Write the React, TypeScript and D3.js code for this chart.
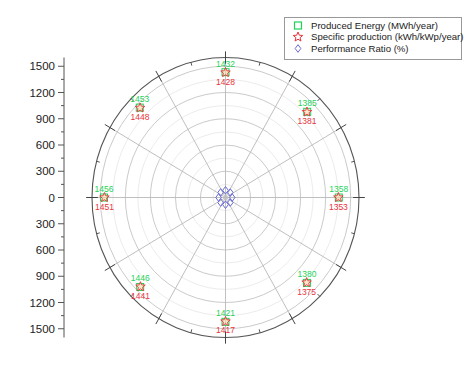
import React from "react";
import * as d3 from "d3";

const directions = [0, 45, 90, 135, 180, 225, 270, 315]; // degrees clockwise from north
const producedEnergy = [1432, 1385, 1358, 1380, 1421, 1446, 1456, 1453];
const specificProduction = [1428, 1381, 1353, 1375, 1417, 1441, 1451, 1448];
const performanceRatio = [82, 81, 80, 81, 82, 82, 83, 82];
const axisTicks = [-1500, -1200, -900, -600, -300, 0, 300, 600, 900, 1200, 1500];
const legendLabels = [
  "Produced Energy (MWh/year)",
  "Specific production (kWh/kWp/year)",
  "Performance Ratio (%)",
];

const W = 474;
const H = 376;
const cx = 225.5;
const cy = 197.5;
const RX = 133.5;
const RY = 140;
const MAXV = 1600;
const FONT = "'Liberation Sans', Arial, sans-serif";
const GREEN = "#1fd25a";
const RED = "#e8333d";
const BLUE = "#6b6bd6";

const rx = d3.scaleLinear().domain([0, MAXV]).range([0, RX]);
const ry = d3.scaleLinear().domain([0, MAXV]).range([0, RY]);
const yAxis = d3.scaleLinear().domain([-MAXV, MAXV]).range([cy - RY, cy + RY]);

function pos(angleDeg: number, v: number): [number, number] {
  const a = (angleDeg * Math.PI) / 180;
  return [cx + rx(v) * Math.sin(a), cy - ry(v) * Math.cos(a)];
}

function starPath(x: number, y: number, R: number, r: number) {
  const pts: string[] = [];
  for (let i = 0; i < 10; i++) {
    const a = (Math.PI / 5) * i - Math.PI / 2;
    const rr = i % 2 === 0 ? R : r;
    pts.push(`${x + rr * Math.cos(a)},${y + rr * Math.sin(a)}`);
  }
  return "M" + pts.join("L") + "Z";
}

function diamondPath(x: number, y: number, s: number) {
  return `M${x},${y - s}L${x + s * 0.75},${y}L${x},${y + s}L${x - s * 0.75},${y}Z`;
}

export default function App() {
  const majorRings = d3.range(300, 1501, 300);
  const minorRings = d3.range(150, 1600, 300);
  const spokes = d3.range(0, 360, 30);
  const minorTicks = d3.range(15, 360, 30);
  const axisMinor = d3.range(-1650, 1651, 300).filter((v) => Math.abs(v) <= MAXV);

  return (
    <svg width={W} height={H} style={{ position: "absolute", left: 0, top: 0, background: "#fff" }}>
      {minorRings.map((v) => (
        <ellipse key={"mn" + v} cx={cx} cy={cy} rx={rx(v)} ry={ry(v)} fill="none" stroke="#e6e6e6" strokeWidth={0.8} />
      ))}
      {majorRings.map((v) => (
        <ellipse key={"mj" + v} cx={cx} cy={cy} rx={rx(v)} ry={ry(v)} fill="none" stroke="#c4c4c4" strokeWidth={0.9} />
      ))}
      {spokes.map((a) => {
        const [x, y] = pos(a, MAXV);
        return <line key={"sp" + a} x1={cx} y1={cy} x2={x} y2={y} stroke="#b8b8b8" strokeWidth={0.9} />;
      })}
      <ellipse cx={cx} cy={cy} rx={RX} ry={RY} fill="none" stroke="#555" strokeWidth={1.1} />
      {spokes.map((a) => {
        const [x1, y1] = pos(a, MAXV - 70);
        const [x2, y2] = pos(a, MAXV + 70);
        return <line key={"tk" + a} x1={x1} y1={y1} x2={x2} y2={y2} stroke="#444" strokeWidth={1} />;
      })}
      {minorTicks.map((a) => {
        const [x1, y1] = pos(a, MAXV - 40);
        const [x2, y2] = pos(a, MAXV);
        return <line key={"mt" + a} x1={x1} y1={y1} x2={x2} y2={y2} stroke="#444" strokeWidth={0.9} />;
      })}

      <line x1={64} y1={cy - RY} x2={64} y2={cy + RY} stroke="#555" strokeWidth={1} />
      {axisTicks.map((v) => (
        <g key={"at" + v}>
          <line x1={58} y1={yAxis(v)} x2={64} y2={yAxis(v)} stroke="#555" strokeWidth={1} />
          <text x={55} y={yAxis(v)} dy="0.35em" textAnchor="end" fontFamily={FONT} fontSize={11.5} fill="#222">
            {Math.abs(v)}
          </text>
        </g>
      ))}
      {axisMinor.map((v) => (
        <line key={"am" + v} x1={61} y1={yAxis(v)} x2={64} y2={yAxis(v)} stroke="#555" strokeWidth={1} />
      ))}

      {directions.map((a, i) => {
        const [x, y] = pos(a, performanceRatio[i]);
        return <path key={"pr" + i} d={diamondPath(x, y, 3.8)} fill="none" stroke={BLUE} strokeWidth={1} />;
      })}

      {directions.map((a, i) => {
        const [x, y] = pos(a, producedEnergy[i]);
        const [xs, ys] = pos(a, specificProduction[i]);
        return (
          <g key={"pt" + i}>
            <rect x={x - 3.5} y={y - 3.5} width={7} height={7} fill="none" stroke={GREEN} strokeWidth={1} />
            <path d={starPath(xs, ys, 5, 2.2)} fill="#f3d9a0" fillOpacity={0.6} stroke={RED} strokeWidth={0.9} />
            <text x={x} y={y - 5.5} textAnchor="middle" fontFamily={FONT} fontSize={8.5} fill={GREEN}>
              {producedEnergy[i]}
            </text>
            <text x={xs} y={ys + 12} textAnchor="middle" fontFamily={FONT} fontSize={8.5} fill={RED}>
              {specificProduction[i]}
            </text>
          </g>
        );
      })}

      <rect x={284.5} y={17.5} width={177} height={42} fill="#fff" stroke="#999" strokeWidth={1} />
      {legendLabels.map((t, i) => {
        const ly = 25.5 + i * 11.5;
        return (
          <g key={"lg" + i}>
            {i === 0 && <rect x={294.5} y={ly - 3.5} width={7} height={7} fill="none" stroke={GREEN} strokeWidth={1.2} />}
            {i === 1 && <path d={starPath(298, ly, 5, 2.2)} fill="none" stroke={RED} strokeWidth={1} />}
            {i === 2 && <path d={diamondPath(298, ly, 3.8)} fill="none" stroke={BLUE} strokeWidth={1} />}
            <text x={311} y={ly} dy="0.35em" fontFamily={FONT} fontSize={9.6} fill="#222">
              {t}
            </text>
          </g>
        );
      })}
    </svg>
  );
}
